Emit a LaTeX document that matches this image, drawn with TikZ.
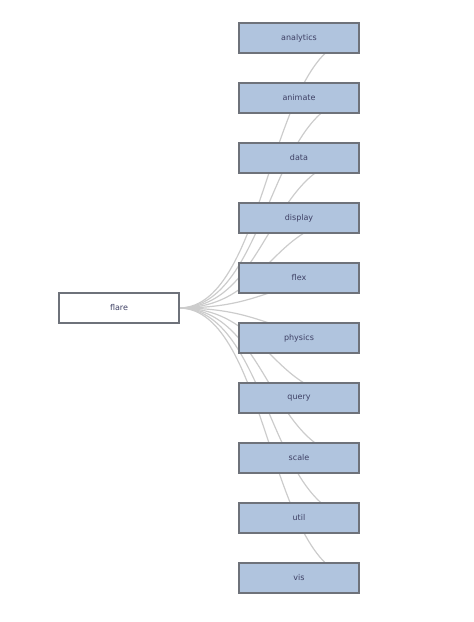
\documentclass[tikz,border=0pt]{standalone}
\usepackage{fontspec}
\setmainfont{DejaVu Sans}
\usepackage{tikz}
\usetikzlibrary{positioning, backgrounds}

\definecolor{boxfill}{RGB}{176,196,222}
\definecolor{boxline}{RGB}{110,114,122}
\definecolor{linkgray}{RGB}{204,204,204}
\definecolor{labeltext}{RGB}{62,64,100}

\begin{document}
\begin{tikzpicture}[
    x=1pt, y=-1pt,
    node distance=30pt,
    leaf/.style={
        rectangle,
        draw=boxline,
        fill=boxfill,
        line width=1.6pt,
        minimum width=120pt,
        minimum height=30pt,
        outer sep=0pt,
        text=labeltext,
        font=\fontsize{8}{9}\selectfont
    },
    root/.style={
        leaf,
        fill=white
    },
    link/.style={draw=linkgray, line width=1.2pt}
]

\useasboundingbox (0,0) rectangle (474,622);

\node[root] (flare) at (119,308) {flare};
\node[leaf] (analytics) at (299,38) {analytics};
\node[leaf, below=of analytics] (animate) {animate};
\node[leaf, below=of animate] (data) {data};
\node[leaf, below=of data] (display) {display};
\node[leaf, below=of display] (flex) {flex};
\node[leaf, below=of flex] (physics) {physics};
\node[leaf, below=of physics] (query) {query};
\node[leaf, below=of query] (scale) {scale};
\node[leaf, below=of scale] (util) {util};
\node[leaf, below=of util] (vis) {vis};

% links sit behind the boxes
\begin{pgfonlayer}{background}
\draw[link] (flare.east) .. controls +(90,0) and +(-90,0) .. (analytics.east);
\draw[link] (flare.east) .. controls +(90,0) and +(-90,0) .. (animate.east);
\draw[link] (flare.east) .. controls +(90,0) and +(-90,0) .. (data.east);
\draw[link] (flare.east) .. controls +(90,0) and +(-90,0) .. (display.east);
\draw[link] (flare.east) .. controls +(90,0) and +(-90,0) .. (flex.east);
\draw[link] (flare.east) .. controls +(90,0) and +(-90,0) .. (physics.east);
\draw[link] (flare.east) .. controls +(90,0) and +(-90,0) .. (query.east);
\draw[link] (flare.east) .. controls +(90,0) and +(-90,0) .. (scale.east);
\draw[link] (flare.east) .. controls +(90,0) and +(-90,0) .. (util.east);
\draw[link] (flare.east) .. controls +(90,0) and +(-90,0) .. (vis.east);
\end{pgfonlayer}

\end{tikzpicture}
\end{document}
